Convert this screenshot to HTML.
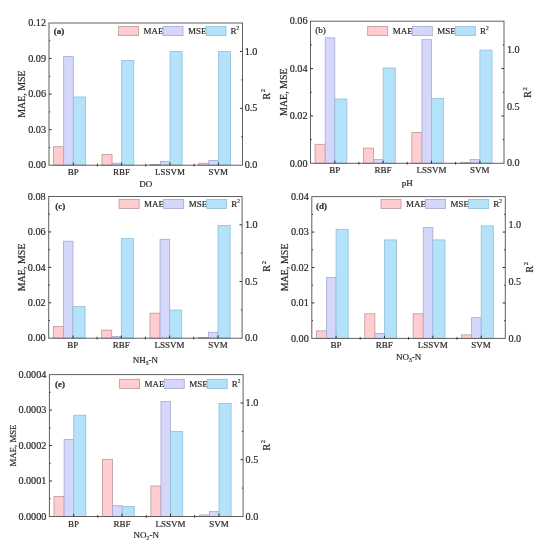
<!DOCTYPE html>
<html><head><meta charset="utf-8"><title>Model comparison</title>
<style>
html,body{margin:0;padding:0;background:#fff;width:543px;height:550px;overflow:hidden}
svg{display:block}
text{font-family:"Liberation Serif", "Times New Roman", serif;fill:#262626;stroke:#262626;stroke-width:0.18px}

</style></head><body>
<svg width="543" height="550" viewBox="0 0 543 550">
<rect width="543" height="550" fill="#fff"/>
<rect x="53.59" y="146.7" width="10.1" height="18.5" fill="#ffcdd0" stroke="#b89a9c" stroke-width="0.8"/>
<rect x="63.69" y="56.4" width="9.6" height="108.8" fill="#d5d7fa" stroke="#a6a8d2" stroke-width="0.8"/>
<rect x="73.29" y="97" width="12.1" height="68.2" fill="#b4e2fa" stroke="#8fbfd9" stroke-width="0.8"/>
<rect x="101.96" y="154.5" width="10.1" height="10.7" fill="#ffcdd0" stroke="#b89a9c" stroke-width="0.8"/>
<rect x="112.06" y="163.2" width="9.6" height="2" fill="#d5d7fa" stroke="#a6a8d2" stroke-width="0.8"/>
<rect x="121.66" y="60.4" width="12.1" height="104.8" fill="#b4e2fa" stroke="#8fbfd9" stroke-width="0.8"/>
<rect x="150.34" y="164.4" width="10.1" height="0.8" fill="#ffcdd0" stroke="#b89a9c" stroke-width="0.8"/>
<rect x="160.44" y="161.3" width="9.6" height="3.9" fill="#d5d7fa" stroke="#a6a8d2" stroke-width="0.8"/>
<rect x="170.04" y="51.6" width="12.1" height="113.6" fill="#b4e2fa" stroke="#8fbfd9" stroke-width="0.8"/>
<rect x="198.71" y="163.2" width="10.1" height="2" fill="#ffcdd0" stroke="#b89a9c" stroke-width="0.8"/>
<rect x="208.81" y="160.4" width="9.6" height="4.8" fill="#d5d7fa" stroke="#a6a8d2" stroke-width="0.8"/>
<rect x="218.41" y="51.6" width="12.1" height="113.6" fill="#b4e2fa" stroke="#8fbfd9" stroke-width="0.8"/>
<rect x="49" y="23" width="193.5" height="142.2" fill="none" stroke="#606060" stroke-width="1"/>
<path d="M49 147.42h1.2 M49 129.65h2.6 M49 111.88h1.2 M49 94.1h2.6 M49 76.32h1.2 M49 58.55h2.6 M49 40.78h1.2 M241.3 136.76h1.2 M239.9 108.32h2.6 M241.3 79.88h1.2 M239.9 51.44h2.6 M97.38 163.8v2.6 M145.75 163.8v2.6 M194.12 163.8v2.6 M73.29 162.5v2.7 M121.66 162.5v2.7 M170.04 162.5v2.7 M218.41 162.5v2.7" stroke="#333" stroke-width="1" fill="none"/>
<text x="46" y="168.4" font-size="10.2" text-anchor="end">0.00</text>
<text x="46" y="132.85" font-size="10.2" text-anchor="end">0.03</text>
<text x="46" y="97.3" font-size="10.2" text-anchor="end">0.06</text>
<text x="46" y="61.75" font-size="10.2" text-anchor="end">0.09</text>
<text x="46" y="26.2" font-size="10.2" text-anchor="end">0.12</text>
<text x="244.7" y="168.3" font-size="10.2" text-anchor="start">0.0</text>
<text x="244.7" y="111.42" font-size="10.2" text-anchor="start">0.5</text>
<text x="244.7" y="54.54" font-size="10.2" text-anchor="start">1.0</text>
<text x="73.19" y="175.2" font-size="9" text-anchor="middle">BP</text>
<text x="121.56" y="175.2" font-size="9" text-anchor="middle">RBF</text>
<text x="169.94" y="175.2" font-size="9" text-anchor="middle">LSSVM</text>
<text x="218.31" y="175.2" font-size="9" text-anchor="middle">SVM</text>
<text x="145.75" y="187" font-size="9" text-anchor="middle">DO</text>
<text x="0" y="0" font-size="9.94" text-anchor="middle" transform="translate(25.2 94.15) rotate(-90)">MAE, MSE</text>
<text x="0" y="0" font-size="10" text-anchor="middle" transform="translate(270 94.3) rotate(-90)">R<tspan font-size="6.6" dx="0.6" dy="-4.6">2</tspan></text>
<text x="53.8" y="34.4" font-size="9" text-anchor="start" font-weight="bold">(a)</text>
<rect x="118.4" y="26.4" width="20" height="9.2" fill="#ffcdd0" stroke="#b89a9c" stroke-width="0.8"/>
<text x="143.4" y="33.9" font-size="9" text-anchor="start">MAE</text>
<rect x="163" y="26.4" width="20" height="9.2" fill="#d5d7fa" stroke="#a6a8d2" stroke-width="0.8"/>
<text x="188" y="33.9" font-size="9" text-anchor="start">MSE</text>
<rect x="206" y="26.4" width="20" height="9.2" fill="#b4e2fa" stroke="#8fbfd9" stroke-width="0.8"/>
<text x="230.6" y="33.9" font-size="9" text-anchor="start">R<tspan font-size="5.4" dy="-3.8">2</tspan></text>
<rect x="315.09" y="144.3" width="10.1" height="19" fill="#ffcdd0" stroke="#b89a9c" stroke-width="0.8"/>
<rect x="325.19" y="37.9" width="9.6" height="125.4" fill="#d5d7fa" stroke="#a6a8d2" stroke-width="0.8"/>
<rect x="334.79" y="99" width="12.1" height="64.3" fill="#b4e2fa" stroke="#8fbfd9" stroke-width="0.8"/>
<rect x="363.46" y="148.1" width="10.1" height="15.2" fill="#ffcdd0" stroke="#b89a9c" stroke-width="0.8"/>
<rect x="373.56" y="159.6" width="9.6" height="3.7" fill="#d5d7fa" stroke="#a6a8d2" stroke-width="0.8"/>
<rect x="383.16" y="68" width="12.1" height="95.3" fill="#b4e2fa" stroke="#8fbfd9" stroke-width="0.8"/>
<rect x="411.84" y="132.6" width="10.1" height="30.7" fill="#ffcdd0" stroke="#b89a9c" stroke-width="0.8"/>
<rect x="421.94" y="39.7" width="9.6" height="123.6" fill="#d5d7fa" stroke="#a6a8d2" stroke-width="0.8"/>
<rect x="431.54" y="98.5" width="12.1" height="64.8" fill="#b4e2fa" stroke="#8fbfd9" stroke-width="0.8"/>
<rect x="460.21" y="162.6" width="10.1" height="0.7" fill="#ffcdd0" stroke="#b89a9c" stroke-width="0.8"/>
<rect x="470.31" y="159.6" width="9.6" height="3.7" fill="#d5d7fa" stroke="#a6a8d2" stroke-width="0.8"/>
<rect x="479.91" y="50.1" width="12.1" height="113.2" fill="#b4e2fa" stroke="#8fbfd9" stroke-width="0.8"/>
<rect x="310.5" y="21.2" width="193.5" height="142.1" fill="none" stroke="#606060" stroke-width="1"/>
<path d="M310.5 139.62h1.2 M310.5 115.93h2.6 M310.5 92.25h1.2 M310.5 68.57h2.6 M310.5 44.88h1.2 M502.8 139.62h1.2 M501.4 115.93h2.6 M502.8 92.25h1.2 M501.4 68.57h2.6 M502.8 44.88h1.2 M358.88 161.9v2.6 M407.25 161.9v2.6 M455.62 161.9v2.6 M334.79 160.6v2.7 M383.16 160.6v2.7 M431.54 160.6v2.7 M479.91 160.6v2.7" stroke="#333" stroke-width="1" fill="none"/>
<text x="307.5" y="166.5" font-size="10.2" text-anchor="end">0.00</text>
<text x="307.5" y="119.13" font-size="10.2" text-anchor="end">0.02</text>
<text x="307.5" y="71.77" font-size="10.2" text-anchor="end">0.04</text>
<text x="307.5" y="24.4" font-size="10.2" text-anchor="end">0.06</text>
<text x="506.9" y="166.4" font-size="10.2" text-anchor="start">0.0</text>
<text x="506.9" y="109.56" font-size="10.2" text-anchor="start">0.5</text>
<text x="506.9" y="52.72" font-size="10.2" text-anchor="start">1.0</text>
<text x="334.69" y="173.3" font-size="9" text-anchor="middle">BP</text>
<text x="383.06" y="173.3" font-size="9" text-anchor="middle">RBF</text>
<text x="431.44" y="173.3" font-size="9" text-anchor="middle">LSSVM</text>
<text x="479.81" y="173.3" font-size="9" text-anchor="middle">SVM</text>
<text x="407.25" y="186" font-size="9" text-anchor="middle">pH</text>
<text x="0" y="0" font-size="9.94" text-anchor="middle" transform="translate(287 92.2) rotate(-90)">MAE, MSE</text>
<text x="0" y="0" font-size="10" text-anchor="middle" transform="translate(531.2 92.45) rotate(-90)">R<tspan font-size="6.6" dx="0.6" dy="-4.6">2</tspan></text>
<text x="315.2" y="32.6" font-size="9" text-anchor="start">(b)</text>
<rect x="367.7" y="26.4" width="20" height="9.2" fill="#ffcdd0" stroke="#b89a9c" stroke-width="0.8"/>
<text x="392.7" y="33.9" font-size="9" text-anchor="start">MAE</text>
<rect x="412.3" y="26.4" width="20" height="9.2" fill="#d5d7fa" stroke="#a6a8d2" stroke-width="0.8"/>
<text x="437.3" y="33.9" font-size="9" text-anchor="start">MSE</text>
<rect x="455.3" y="26.4" width="20" height="9.2" fill="#b4e2fa" stroke="#8fbfd9" stroke-width="0.8"/>
<text x="479.9" y="33.9" font-size="9" text-anchor="start">R<tspan font-size="5.4" dy="-3.8">2</tspan></text>
<rect x="53.27" y="326.4" width="10.1" height="11.8" fill="#ffcdd0" stroke="#b89a9c" stroke-width="0.8"/>
<rect x="63.38" y="241.2" width="9.6" height="97" fill="#d5d7fa" stroke="#a6a8d2" stroke-width="0.8"/>
<rect x="72.97" y="306.4" width="12.1" height="31.8" fill="#b4e2fa" stroke="#8fbfd9" stroke-width="0.8"/>
<rect x="101.62" y="330.1" width="10.1" height="8.1" fill="#ffcdd0" stroke="#b89a9c" stroke-width="0.8"/>
<rect x="111.72" y="336.4" width="9.6" height="1.8" fill="#d5d7fa" stroke="#a6a8d2" stroke-width="0.8"/>
<rect x="121.32" y="238.6" width="12.1" height="99.6" fill="#b4e2fa" stroke="#8fbfd9" stroke-width="0.8"/>
<rect x="149.97" y="313.2" width="10.1" height="25" fill="#ffcdd0" stroke="#b89a9c" stroke-width="0.8"/>
<rect x="160.07" y="239.3" width="9.6" height="98.9" fill="#d5d7fa" stroke="#a6a8d2" stroke-width="0.8"/>
<rect x="169.67" y="310.1" width="12.1" height="28.1" fill="#b4e2fa" stroke="#8fbfd9" stroke-width="0.8"/>
<rect x="198.32" y="337.5" width="10.1" height="0.7" fill="#ffcdd0" stroke="#b89a9c" stroke-width="0.8"/>
<rect x="208.42" y="332.2" width="9.6" height="6" fill="#d5d7fa" stroke="#a6a8d2" stroke-width="0.8"/>
<rect x="218.02" y="225.4" width="12.1" height="112.8" fill="#b4e2fa" stroke="#8fbfd9" stroke-width="0.8"/>
<rect x="48.7" y="196.5" width="193.4" height="141.7" fill="none" stroke="#606060" stroke-width="1"/>
<path d="M48.7 320.49h1.2 M48.7 302.77h2.6 M48.7 285.06h1.2 M48.7 267.35h2.6 M48.7 249.64h1.2 M48.7 231.93h2.6 M48.7 214.21h1.2 M240.9 309.86h1.2 M239.5 281.52h2.6 M240.9 253.18h1.2 M239.5 224.84h2.6 M97.05 336.8v2.6 M145.4 336.8v2.6 M193.75 336.8v2.6 M72.97 335.5v2.7 M121.32 335.5v2.7 M169.67 335.5v2.7 M218.02 335.5v2.7" stroke="#333" stroke-width="1" fill="none"/>
<text x="45.7" y="341.4" font-size="10.2" text-anchor="end">0.00</text>
<text x="45.7" y="305.97" font-size="10.2" text-anchor="end">0.02</text>
<text x="45.7" y="270.55" font-size="10.2" text-anchor="end">0.04</text>
<text x="45.7" y="235.12" font-size="10.2" text-anchor="end">0.06</text>
<text x="45.7" y="199.7" font-size="10.2" text-anchor="end">0.08</text>
<text x="244.9" y="341.3" font-size="10.2" text-anchor="start">0.0</text>
<text x="244.9" y="284.62" font-size="10.2" text-anchor="start">0.5</text>
<text x="244.9" y="227.94" font-size="10.2" text-anchor="start">1.0</text>
<text x="72.88" y="348.2" font-size="9" text-anchor="middle">BP</text>
<text x="121.22" y="348.2" font-size="9" text-anchor="middle">RBF</text>
<text x="169.57" y="348.2" font-size="9" text-anchor="middle">LSSVM</text>
<text x="217.92" y="348.2" font-size="9" text-anchor="middle">SVM</text>
<text x="145.4" y="362.6" font-size="9" text-anchor="middle">NH<tspan font-size="5.6" dy="2">3</tspan><tspan dy="-2">-N</tspan></text>
<text x="0" y="0" font-size="10" text-anchor="middle" transform="translate(25.2 267.4) rotate(-90)">MAE, MSE</text>
<text x="0" y="0" font-size="10" text-anchor="middle" transform="translate(270.1 266.35) rotate(-90)">R<tspan font-size="6.6" dx="0.6" dy="-4.6">2</tspan></text>
<text x="55.2" y="209.4" font-size="9" text-anchor="start" font-weight="bold">(c)</text>
<rect x="119.1" y="199.4" width="20" height="9.2" fill="#ffcdd0" stroke="#b89a9c" stroke-width="0.8"/>
<text x="144.1" y="206.9" font-size="9" text-anchor="start">MAE</text>
<rect x="163.7" y="199.4" width="20" height="9.2" fill="#d5d7fa" stroke="#a6a8d2" stroke-width="0.8"/>
<text x="188.7" y="206.9" font-size="9" text-anchor="start">MSE</text>
<rect x="206.7" y="199.4" width="20" height="9.2" fill="#b4e2fa" stroke="#8fbfd9" stroke-width="0.8"/>
<text x="231.3" y="206.9" font-size="9" text-anchor="start">R<tspan font-size="5.4" dy="-3.8">2</tspan></text>
<rect x="316.39" y="330.9" width="10.1" height="7.5" fill="#ffcdd0" stroke="#b89a9c" stroke-width="0.8"/>
<rect x="326.49" y="277.6" width="9.6" height="60.8" fill="#d5d7fa" stroke="#a6a8d2" stroke-width="0.8"/>
<rect x="336.09" y="229.3" width="12.1" height="109.1" fill="#b4e2fa" stroke="#8fbfd9" stroke-width="0.8"/>
<rect x="364.76" y="313.8" width="10.1" height="24.6" fill="#ffcdd0" stroke="#b89a9c" stroke-width="0.8"/>
<rect x="374.86" y="333.5" width="9.6" height="4.9" fill="#d5d7fa" stroke="#a6a8d2" stroke-width="0.8"/>
<rect x="384.46" y="239.9" width="12.1" height="98.5" fill="#b4e2fa" stroke="#8fbfd9" stroke-width="0.8"/>
<rect x="413.14" y="313.8" width="10.1" height="24.6" fill="#ffcdd0" stroke="#b89a9c" stroke-width="0.8"/>
<rect x="423.24" y="227.7" width="9.6" height="110.7" fill="#d5d7fa" stroke="#a6a8d2" stroke-width="0.8"/>
<rect x="432.84" y="239.9" width="12.1" height="98.5" fill="#b4e2fa" stroke="#8fbfd9" stroke-width="0.8"/>
<rect x="461.51" y="334.9" width="10.1" height="3.5" fill="#ffcdd0" stroke="#b89a9c" stroke-width="0.8"/>
<rect x="471.61" y="317.7" width="9.6" height="20.7" fill="#d5d7fa" stroke="#a6a8d2" stroke-width="0.8"/>
<rect x="481.21" y="225.9" width="12.1" height="112.5" fill="#b4e2fa" stroke="#8fbfd9" stroke-width="0.8"/>
<rect x="311.8" y="196.6" width="193.5" height="141.8" fill="none" stroke="#606060" stroke-width="1"/>
<path d="M311.8 320.67h1.2 M311.8 302.95h2.6 M311.8 285.22h1.2 M311.8 267.5h2.6 M311.8 249.77h1.2 M311.8 232.05h2.6 M311.8 214.32h1.2 M504.1 320.67h1.2 M502.7 302.95h2.6 M504.1 285.22h1.2 M502.7 267.5h2.6 M504.1 249.77h1.2 M502.7 232.05h2.6 M504.1 214.32h1.2 M360.18 337v2.6 M408.55 337v2.6 M456.93 337v2.6 M336.09 335.7v2.7 M384.46 335.7v2.7 M432.84 335.7v2.7 M481.21 335.7v2.7" stroke="#333" stroke-width="1" fill="none"/>
<text x="308.8" y="341.6" font-size="10.2" text-anchor="end">0.00</text>
<text x="308.8" y="306.15" font-size="10.2" text-anchor="end">0.01</text>
<text x="308.8" y="270.7" font-size="10.2" text-anchor="end">0.02</text>
<text x="308.8" y="235.25" font-size="10.2" text-anchor="end">0.03</text>
<text x="308.8" y="199.8" font-size="10.2" text-anchor="end">0.04</text>
<text x="508.4" y="341.5" font-size="10.2" text-anchor="start">0.0</text>
<text x="508.4" y="284.78" font-size="10.2" text-anchor="start">0.5</text>
<text x="508.4" y="228.06" font-size="10.2" text-anchor="start">1.0</text>
<text x="335.99" y="348.4" font-size="9" text-anchor="middle">BP</text>
<text x="384.36" y="348.4" font-size="9" text-anchor="middle">RBF</text>
<text x="432.74" y="348.4" font-size="9" text-anchor="middle">LSSVM</text>
<text x="481.11" y="348.4" font-size="9" text-anchor="middle">SVM</text>
<text x="408.55" y="359.5" font-size="9" text-anchor="middle">NO<tspan font-size="5.6" dy="2">3</tspan><tspan dy="-2">-N</tspan></text>
<text x="0" y="0" font-size="10" text-anchor="middle" transform="translate(288.1 267.4) rotate(-90)">MAE, MSE</text>
<text x="0" y="0" font-size="10" text-anchor="middle" transform="translate(533 267.2) rotate(-90)">R<tspan font-size="6.6" dx="0.6" dy="-4.6">2</tspan></text>
<text x="316" y="208.6" font-size="9" text-anchor="start" font-weight="bold">(d)</text>
<rect x="381" y="199.4" width="20" height="9.2" fill="#ffcdd0" stroke="#b89a9c" stroke-width="0.8"/>
<text x="406" y="206.9" font-size="9" text-anchor="start">MAE</text>
<rect x="425.6" y="199.4" width="20" height="9.2" fill="#d5d7fa" stroke="#a6a8d2" stroke-width="0.8"/>
<text x="450.6" y="206.9" font-size="9" text-anchor="start">MSE</text>
<rect x="468.6" y="199.4" width="20" height="9.2" fill="#b4e2fa" stroke="#8fbfd9" stroke-width="0.8"/>
<text x="493.2" y="206.9" font-size="9" text-anchor="start">R<tspan font-size="5.4" dy="-3.8">2</tspan></text>
<rect x="54.01" y="496.5" width="10.1" height="20" fill="#ffcdd0" stroke="#b89a9c" stroke-width="0.8"/>
<rect x="64.11" y="439.5" width="9.6" height="77" fill="#d5d7fa" stroke="#a6a8d2" stroke-width="0.8"/>
<rect x="73.71" y="415.2" width="12.1" height="101.3" fill="#b4e2fa" stroke="#8fbfd9" stroke-width="0.8"/>
<rect x="102.44" y="459.3" width="10.1" height="57.2" fill="#ffcdd0" stroke="#b89a9c" stroke-width="0.8"/>
<rect x="112.54" y="505.7" width="9.6" height="10.8" fill="#d5d7fa" stroke="#a6a8d2" stroke-width="0.8"/>
<rect x="122.14" y="506.5" width="12.1" height="10" fill="#b4e2fa" stroke="#8fbfd9" stroke-width="0.8"/>
<rect x="150.86" y="486" width="10.1" height="30.5" fill="#ffcdd0" stroke="#b89a9c" stroke-width="0.8"/>
<rect x="160.96" y="401.5" width="9.6" height="115" fill="#d5d7fa" stroke="#a6a8d2" stroke-width="0.8"/>
<rect x="170.56" y="431.6" width="12.1" height="84.9" fill="#b4e2fa" stroke="#8fbfd9" stroke-width="0.8"/>
<rect x="199.29" y="515" width="10.1" height="1.5" fill="#ffcdd0" stroke="#b89a9c" stroke-width="0.8"/>
<rect x="209.39" y="511.5" width="9.6" height="5" fill="#d5d7fa" stroke="#a6a8d2" stroke-width="0.8"/>
<rect x="218.99" y="403.4" width="12.1" height="113.1" fill="#b4e2fa" stroke="#8fbfd9" stroke-width="0.8"/>
<rect x="49.4" y="374.6" width="193.7" height="141.9" fill="none" stroke="#606060" stroke-width="1"/>
<path d="M49.4 498.76h1.2 M49.4 481.02h2.6 M49.4 463.29h1.2 M49.4 445.55h2.6 M49.4 427.81h1.2 M49.4 410.08h2.6 M49.4 392.34h1.2 M241.9 488.12h1.2 M240.5 459.74h2.6 M241.9 431.36h1.2 M240.5 402.98h2.6 M97.82 515.1v2.6 M146.25 515.1v2.6 M194.67 515.1v2.6 M73.71 513.8v2.7 M122.14 513.8v2.7 M170.56 513.8v2.7 M218.99 513.8v2.7" stroke="#333" stroke-width="1" fill="none"/>
<text x="46.4" y="519.7" font-size="10.2" text-anchor="end">0.0000</text>
<text x="46.4" y="484.22" font-size="10.2" text-anchor="end">0.0001</text>
<text x="46.4" y="448.75" font-size="10.2" text-anchor="end">0.0002</text>
<text x="46.4" y="413.28" font-size="10.2" text-anchor="end">0.0003</text>
<text x="46.4" y="377.8" font-size="10.2" text-anchor="end">0.0004</text>
<text x="245.6" y="519.6" font-size="10.2" text-anchor="start">0.0</text>
<text x="245.6" y="462.84" font-size="10.2" text-anchor="start">0.5</text>
<text x="245.6" y="406.08" font-size="10.2" text-anchor="start">1.0</text>
<text x="73.61" y="526.5" font-size="9" text-anchor="middle">BP</text>
<text x="122.04" y="526.5" font-size="9" text-anchor="middle">RBF</text>
<text x="170.46" y="526.5" font-size="9" text-anchor="middle">LSSVM</text>
<text x="218.89" y="526.5" font-size="9" text-anchor="middle">SVM</text>
<text x="146.25" y="538" font-size="9" text-anchor="middle">NO<tspan font-size="5.6" dy="2">2</tspan><tspan dy="-2">-N</tspan></text>
<text x="0" y="0" font-size="8.8" text-anchor="middle" transform="translate(15.9 445.55) rotate(-90)">MAE, MSE</text>
<text x="0" y="0" font-size="10" text-anchor="middle" transform="translate(270 445.25) rotate(-90)">R<tspan font-size="6.6" dx="0.6" dy="-4.6">2</tspan></text>
<text x="54.9" y="386.8" font-size="9" text-anchor="start" font-weight="bold">(e)</text>
<rect x="119.6" y="379.3" width="20" height="9.2" fill="#ffcdd0" stroke="#b89a9c" stroke-width="0.8"/>
<text x="144.6" y="386.8" font-size="9" text-anchor="start">MAE</text>
<rect x="164.2" y="379.3" width="20" height="9.2" fill="#d5d7fa" stroke="#a6a8d2" stroke-width="0.8"/>
<text x="189.2" y="386.8" font-size="9" text-anchor="start">MSE</text>
<rect x="207.2" y="379.3" width="20" height="9.2" fill="#b4e2fa" stroke="#8fbfd9" stroke-width="0.8"/>
<text x="231.8" y="386.8" font-size="9" text-anchor="start">R<tspan font-size="5.4" dy="-3.8">2</tspan></text>
</svg>
</body></html>
